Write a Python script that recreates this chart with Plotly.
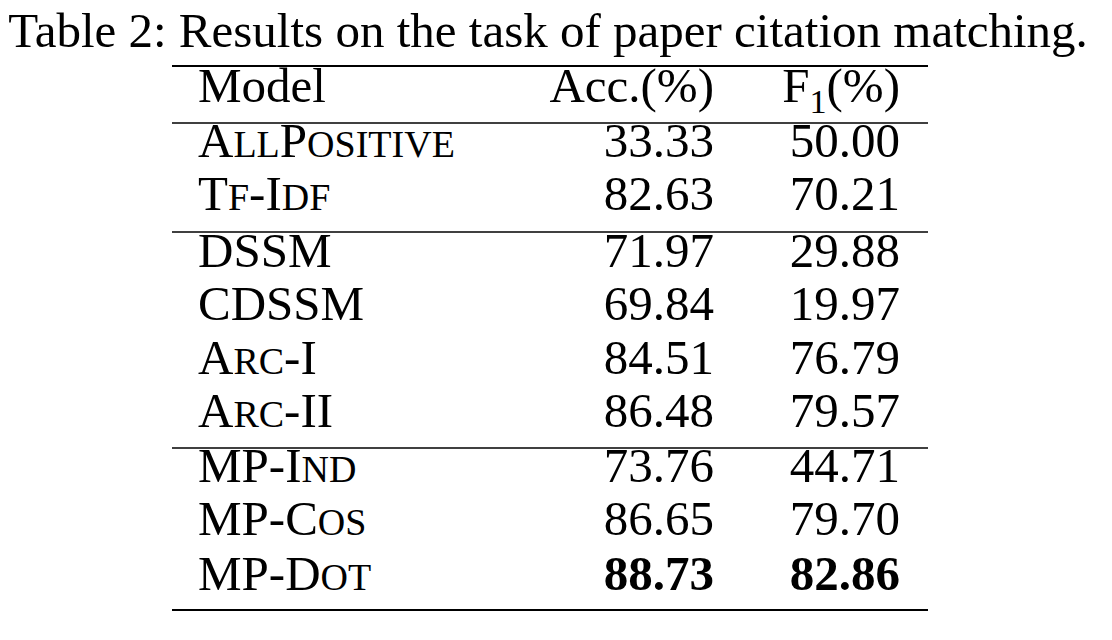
import plotly.graph_objects as go

SC = "<span style='font-size:38px'>{}</span>"
models = ["A" + SC.format("LL") + "P" + SC.format("OSITIVE"),
          "T" + SC.format("F") + "-I" + SC.format("DF"),
          "DSSM", "CDSSM",
          "A" + SC.format("RC") + "-I",
          "A" + SC.format("RC") + "-II",
          "MP-I" + SC.format("ND"),
          "MP-C" + SC.format("OS"),
          "MP-D" + SC.format("OT")]
acc = ["33.33", "82.63", "71.97", "69.84", "84.51", "86.48", "73.76", "86.65", "<b>88.73</b>"]
f1 = ["50.00", "70.21", "29.88", "19.97", "76.79", "79.57", "44.71", "79.70", "<b>82.86</b>"]
headers = ["Model", "Acc.(%)", "F<sub>1</sub>(%)"]
title = "Table 2: Results on the task of paper citation matching."

row_y = [145, 198, 255, 308, 362, 415, 470, 523, 578]
header_y = 90
rules = [66, 123, 232, 448, 610]
FONT = dict(family="Liberation Serif", size=49, color="black")

fig = go.Figure()
fig.add_trace(go.Scatter(x=[198]*len(models), y=row_y, text=models, mode="text",
                         textposition="middle right", textfont=FONT, hoverinfo="skip"))
fig.add_trace(go.Scatter(x=[714]*len(acc), y=row_y, text=acc, mode="text",
                         textposition="middle left", textfont=FONT, hoverinfo="skip"))
fig.add_trace(go.Scatter(x=[900]*len(f1), y=row_y, text=f1, mode="text",
                         textposition="middle left", textfont=FONT, hoverinfo="skip"))
fig.add_trace(go.Scatter(x=[198, 714, 900], y=[header_y]*3, text=headers, mode="text",
                         textposition=["middle right", "middle left", "middle left"],
                         textfont=FONT, hoverinfo="skip"))
fig.add_trace(go.Scatter(x=[548], y=[35], text=[title], mode="text",
                         textposition="middle center", textfont=FONT, hoverinfo="skip"))
for i, r in enumerate(rules):
    fig.add_shape(type="line", x0=172, x1=928, y0=r, y1=r,
                  line=dict(color="black", width=2 if i in (0, 4) else 1.5))

fig.update_layout(width=1112, height=640, margin=dict(l=0, r=0, t=0, b=0),
                  showlegend=False, plot_bgcolor="white", paper_bgcolor="white",
                  xaxis=dict(range=[8, 1120], visible=False, fixedrange=True),
                  yaxis=dict(range=[648, 8], visible=False, fixedrange=True))
fig.write_html("out.html")
